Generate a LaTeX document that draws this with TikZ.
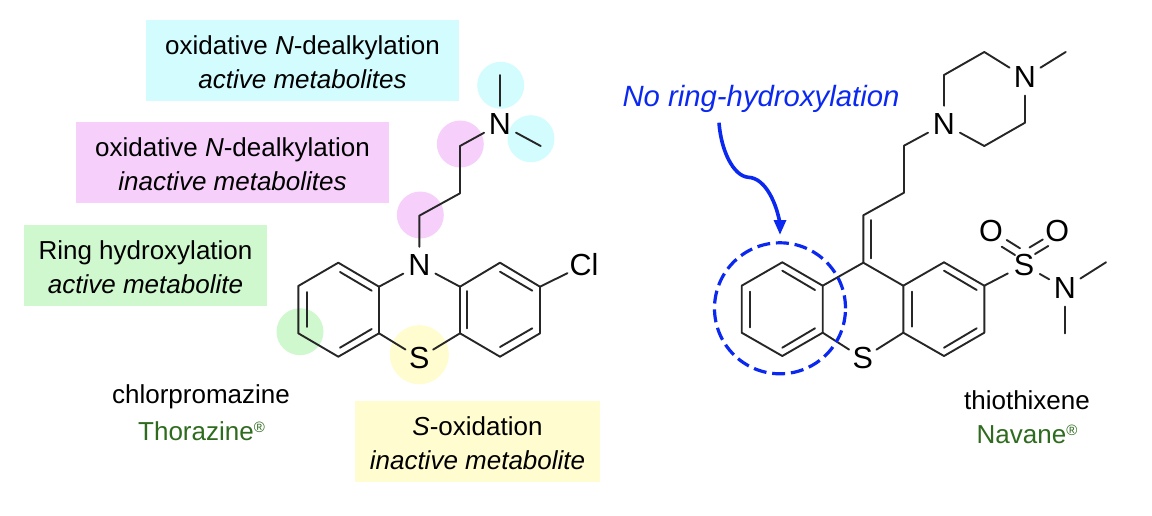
\documentclass[tikz,border=0pt]{standalone}
\usepackage{fontspec}
\setmainfont{Liberation Sans}
\definecolor{cyanbg}{HTML}{D2FCFE}
\definecolor{magbg}{HTML}{F6D0FB}
\definecolor{grnbg}{HTML}{D0F8CE}
\definecolor{yelbg}{HTML}{FFFCCF}
\definecolor{bond}{HTML}{262626}
\definecolor{brand}{HTML}{2E6B1E}
\definecolor{blueink}{HTML}{0A28F0}
\newcommand{\regmark}{\raisebox{8.5pt}{\fontsize{15}{15}\selectfont ®}}
\tikzset{
  bondline/.style={draw=bond,line width=1.9pt,line join=round,line cap=round},
  atom/.style={circle,inner sep=0pt,minimum size=36pt,font=\fontsize{30.5}{30.5}\selectfont,text=black},
  labelbox/.style={inner sep=0pt,text=black,align=center,font=\fontsize{26}{34}\selectfont,minimum height=81pt},
  boxtext/.style={inner sep=0pt,text=black,align=center,font=\fontsize{26}{34}\selectfont},
  spot/.style={circle,inner sep=0pt,minimum size=47pt},
  caption/.style={inner sep=0pt,font=\fontsize{26}{26}\selectfont,text=black},
  brandname/.style={inner sep=0pt,font=\fontsize{26}{26}\selectfont,text=brand}
}
\begin{document}
\begin{tikzpicture}[x=1pt,y=-1pt]
\useasboundingbox (0,0) rectangle (1152,516);
% label boxes
\node[labelbox,fill=cyanbg,minimum width=313pt] (boxA) at (302.5,60.5) {};
\node[labelbox,fill=magbg,minimum width=313pt] (boxB) at (232.5,162.5) {};
\node[labelbox,fill=grnbg,minimum width=243pt] (boxC) at (145.5,265.5) {};
\node[labelbox,fill=yelbg,minimum width=245pt] (boxD) at (477.5,441.5) {};
\node[boxtext] (txtA) at (302.5,62.5) {oxidative \textit{N}-dealkylation\\\textit{active metabolites}};
\node[boxtext] (txtB) at (232.5,164.5) {oxidative \textit{N}-dealkylation\\\textit{inactive metabolites}};
\node[boxtext] (txtC) at (145.5,267.5) {Ring hydroxylation\\\textit{active metabolite}};
\node[boxtext] (txtD) at (477.5,443.5) {\textit{S}-oxidation\\\textit{inactive metabolite}};
% highlight spots
\node[spot,fill=cyanbg] (s1) at (500.7,85.3) {};
\node[spot,fill=cyanbg] (s2) at (531,138.7) {};
\node[spot,fill=magbg] (s3) at (460.3,144) {};
\node[spot,fill=magbg] (s4) at (420.3,215) {};
\node[spot,fill=grnbg] (s5) at (300,331.7) {};
\node[spot,fill=yelbg,minimum size=59pt] (s6) at (419.3,354.7) {};
% chlorpromazine atoms
\node[atom] (cN1) at (419.3,265) {N};
\node[atom,minimum size=32pt] (cS) at (419.3,358) {S};
\node[atom] (cCl) at (584,265) {Cl};
\node[atom] (cN2) at (500,124) {N};
\coordinate (cMe1) at (500,75);
\coordinate (cMe2) at (540.7,146);
\coordinate (cc1) at (460,146);
\coordinate (cc2) at (460,193.3);
\coordinate (cc3) at (419.3,215.7);
\coordinate (la) at (379,286.7);
\coordinate (lb) at (338.3,262.7);
\coordinate (lc) at (298.3,286);
\coordinate (ld) at (298.3,333.3);
\coordinate (le) at (338.3,356.7);
\coordinate (lf) at (379,333.3);
\coordinate (ra) at (460,286.7);
\coordinate (rb) at (500,262.7);
\coordinate (rc) at (540,286.7);
\coordinate (rd) at (540,333.3);
\coordinate (re) at (500,356.7);
\coordinate (rf) at (460,333.3);
\draw[bondline] (la)--(lb)--(lc)--(ld)--(le)--(lf)--cycle;
\draw[bondline] (ra)--(rb)--(rc)--(rd)--(re)--(rf)--cycle;
\draw[bondline] (cN1)--(la);
\draw[bondline] (cN1)--(ra);
\draw[bondline] (cS)--(lf);
\draw[bondline] (cS)--(rf);
\draw[bondline] (rc)--(cCl);
\draw[bondline] (cN1)--(cc3)--(cc2)--(cc1)--(cN2);
\draw[bondline] (cN2)--(cMe1);
\draw[bondline] (cN2)--(cMe2);
\coordinate (d1a) at (340,272); \coordinate (d1b) at (371.7,290.7);
\coordinate (d2a) at (306.7,292); \coordinate (d2b) at (306.7,327);
\coordinate (d3a) at (340,347.7); \coordinate (d3b) at (371.7,329);
\coordinate (d4a) at (467.3,291); \coordinate (d4b) at (467.3,328.3);
\coordinate (d5a) at (500,271.7); \coordinate (d5b) at (532.3,290.7);
\coordinate (d6a) at (500,347); \coordinate (d6b) at (532.3,328.3);
\foreach \p/\q in {d1a/d1b,d2a/d2b,d3a/d3b,d4a/d4b,d5a/d5b,d6a/d6b} \draw[bondline] (\p)--(\q);
% thiothixene atoms
\node[atom,minimum size=32pt] (tS) at (862.7,358.3) {S};
\node[atom] (tN1) at (944,124) {N};
\node[atom] (tN2) at (1025,77.3) {N};
\node[atom] (tS2) at (1024,265) {S};
\node[atom] (tN3) at (1065,288.3) {N};
\node[atom] (tO1) at (991,230.7) {O};
\node[atom] (tO2) at (1057.3,230.7) {O};
\coordinate (ta) at (822.7,285.7);
\coordinate (tb) at (782.3,262.3);
\coordinate (tc) at (741.7,285.7);
\coordinate (td) at (741.7,332.7);
\coordinate (te) at (782.3,356);
\coordinate (tf) at (822.7,332.7);
\coordinate (ua) at (903.3,285.7);
\coordinate (ub) at (944,262.3);
\coordinate (uc) at (984.3,285.7);
\coordinate (ud) at (984.3,332.7);
\coordinate (ue) at (944,356);
\coordinate (uf) at (903.3,332.7);
\coordinate (c9) at (863.3,262.7);
\coordinate (ex) at (863.3,215.3);
\coordinate (ch1) at (904,192.7);
\coordinate (ch2) at (904,145.7);
\coordinate (p1) at (944,75);
\coordinate (p2) at (984.3,52);
\coordinate (p3) at (1025,122.7);
\coordinate (p4) at (984.3,146);
\coordinate (tMe1) at (1065.7,52);
\coordinate (tMe2) at (1106,262.3);
\coordinate (tMe3) at (1065,333.3);
\draw[bondline] (ta)--(tb)--(tc)--(td)--(te)--(tf)--cycle;
\draw[bondline] (ua)--(ub)--(uc)--(ud)--(ue)--(uf)--cycle;
\draw[bondline] (ta)--(c9)--(ua);
\draw[bondline] (tf)--(tS);
\draw[bondline] (uf)--(tS);
\draw[bondline] (c9)--(ex)--(ch1)--(ch2)--(tN1);
\draw[bondline] (tN1)--(p1)--(p2)--(tN2);
\draw[bondline] (tN2)--(p3)--(p4)--(tN1);
\draw[bondline] (tN2)--(tMe1);
\draw[bondline] (uc)--(tS2);
\draw[bondline] (tS2)--(tN3);
\draw[bondline] (tN3)--(tMe2);
\draw[bondline] (tN3)--(tMe3);
\coordinate (e1a) at (870.7,220); \coordinate (e1b) at (870.7,258.3);
\coordinate (e2a) at (782.3,270.7); \coordinate (e2b) at (815,290);
\coordinate (e3a) at (750,291.7); \coordinate (e3b) at (750,327.3);
\coordinate (e4a) at (782.3,347.7); \coordinate (e4b) at (815,328.3);
\coordinate (e5a) at (911.7,291.7); \coordinate (e5b) at (911.7,326.7);
\coordinate (e6a) at (944,270.7); \coordinate (e6b) at (976.7,290);
\coordinate (e7a) at (944,347.7); \coordinate (e7b) at (976.7,328.3);
\coordinate (o1a) at (1001.7,246.7); \coordinate (o1b) at (1015,255);
\coordinate (o2a) at (1006.7,240); \coordinate (o2b) at (1020,248.3);
\coordinate (o3a) at (1035,254); \coordinate (o3b) at (1048.3,246);
\coordinate (o4a) at (1029.5,247.5); \coordinate (o4b) at (1042.8,239.5);
\foreach \p/\q in {e1a/e1b,e2a/e2b,e3a/e3b,e4a/e4b,e5a/e5b,e6a/e6b,e7a/e7b,o1a/o1b,o2a/o2b,o3a/o3b,o4a/o4b} \draw[bondline] (\p)--(\q);
% blue annotation
\node[circle,draw=blueink,line width=3.2pt,dash pattern=on 13pt off 5.8pt,minimum size=131pt,inner sep=0pt] (ringmark) at (780,308.3) {};
\node[inner sep=0pt,text=blueink,font=\fontsize{29.3}{29.3}\selectfont\itshape] (nohyd) at (761,99) {No ring-hydroxylation};
\coordinate (arrStart) at (719,122.7);
\coordinate (arrMid) at (748.3,177.3);
\coordinate (arrEnd) at (780,224);
\coordinate (arrTip) at (780,234.5);
\fill[blueink] (arrTip) -- ++(-6.5,-14.5) -- ++(13,0) -- cycle;
\draw[blueink,line width=3.6pt] (arrStart) .. controls (721,150) and (733,176) .. (arrMid) .. controls (766,178) and (777,205) .. (arrEnd);
% captions
\node[caption] (cap1) at (201,396.5) {chlorpromazine};
\node[brandname] (cap2) at (201.5,431.5) {Thorazine\regmark};
\node[caption] (cap3) at (1027,400) {thiothixene};
\node[brandname] (cap4) at (1027,434.5) {Navane\regmark};
\end{tikzpicture}
\end{document}
